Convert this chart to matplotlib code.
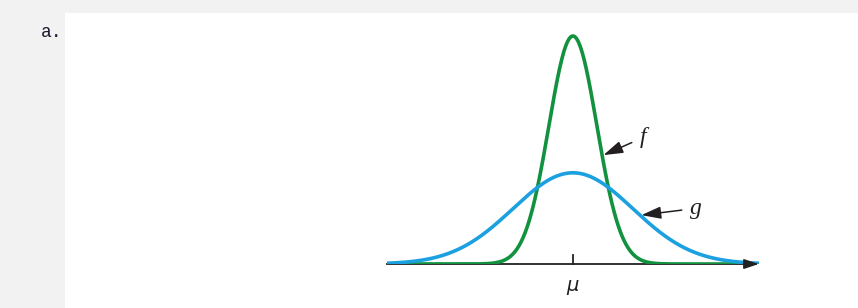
import numpy as np
import matplotlib
matplotlib.use("Agg")
import matplotlib.pyplot as plt
from matplotlib.patches import Rectangle

# Data: two normal curves with a common mean
mu = 0.0
labels = ["f", "g"]
sigmas = [1.0, 2.5]
colors = ["#12923f", "#1ba0e0"]
x_min, x_max = -7.75, 7.8

W, H = 858, 308
fig = plt.figure(figsize=(W / 100, H / 100), dpi=100, facecolor="#f2f2f2")
fig.add_artist(Rectangle((65 / W, 0), 1 - 65 / W, (H - 13) / H,
                         transform=fig.transFigure, facecolor="white",
                         edgecolor="none", zorder=0))
fig.text(41 / W, 1 - 37 / H, "a.", family="Liberation Mono", fontsize=13,
         color="#1a1a2e", va="baseline", ha="left")

ax = fig.add_axes([387 / W, (H - 264) / H, (760 - 387) / W, (264 - 30) / H])
ax.set_facecolor("none")
ax.axis("off")

def pdf(x, s):
    return np.exp(-0.5 * ((x - mu) / s) ** 2) / (s * np.sqrt(2 * np.pi))

peak = pdf(mu, sigmas[0])
ax.set_xlim(x_min, x_max)
ax.set_ylim(0, peak * 234 / 228)

xs = np.linspace(x_min, x_max - 0.05, 800)
for s, c in zip(sigmas, colors):
    ax.plot(xs, pdf(xs, s), color=c, lw=2.6, zorder=3, solid_capstyle="butt")

# x-axis line with arrow
ax.plot([x_min, x_max - 0.3], [0, 0], color="#222222", lw=1.3, zorder=2, clip_on=False)
ax.annotate("", xy=(x_max - 0.05, 0), xytext=(x_max - 0.7, 0),
            arrowprops=dict(arrowstyle="-|>,head_length=0.9,head_width=0.3",
                            color="#222222", lw=1.1, shrinkA=0, shrinkB=0),
            zorder=4, annotation_clip=False)

# tick at mu
ax.plot([mu, mu], [0, peak * 9 / 228], color="#222222", lw=1.3, zorder=2, clip_on=False)
ax.text(mu, -peak * 14 / 228, r"$\mu$", ha="center", va="top", fontsize=14,
        color="#231f20")

# labels with arrows
tips = [1.22, 2.8]
offsets = [(27, 13), (36, 5)]
for lab, s, t, off in zip(labels, sigmas, tips, offsets):
    ax.annotate(lab, xy=(t, pdf(t, s)), xytext=off, textcoords="offset points",
                fontsize=17, family="Liberation Serif", style="italic",
                ha="left", va="center", color="#231f20",
                arrowprops=dict(arrowstyle="-|>,head_length=0.7,head_width=0.22",
                                color="#231f20", lw=1.1, shrinkA=4, shrinkB=1),
                annotation_clip=False)

fig.savefig("out.png", dpi=100, facecolor=fig.get_facecolor())
